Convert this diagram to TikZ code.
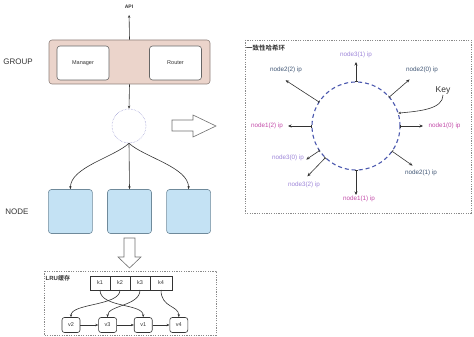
\documentclass[tikz,border=0pt]{standalone}
\usepackage{fontspec}
\setmainfont{Liberation Sans}
\newfontfamily\cjk{Noto Sans CJK SC}[BoldFont={Noto Sans CJK SC Bold}]
\usepackage{tikz}
\usetikzlibrary{arrows.meta,positioning,calc}
\definecolor{ink}{HTML}{333333}
\definecolor{groupfill}{HTML}{EBD4CB}
\definecolor{groupline}{HTML}{8E7F7A}
\definecolor{nodefill}{HTML}{C4E2F4}
\definecolor{nodeline}{HTML}{6F8A9B}
\definecolor{ringblue}{HTML}{4B58AE}
\definecolor{hubline}{HTML}{9090CC}
\definecolor{ipmag}{HTML}{C24AA8}
\definecolor{ipslate}{HTML}{3F5574}
\definecolor{iplav}{HTML}{9C84D8}
\definecolor{framegray}{HTML}{8A8A8A}

\begin{document}
\begin{tikzpicture}[x=1pt,y=-1pt,node distance=14.5pt]
    \tikzset{
      tag/.style={font=\fontsize{8}{9}\selectfont,text=ink},
      group/.style={rounded corners=3pt,draw=groupline,fill=groupfill,line width=0.6pt,minimum width=161pt,minimum height=44pt},
      item/.style={rounded corners=3pt,draw=ink!75,fill=white,line width=0.6pt,minimum width=52pt,minimum height=34pt,font=\fontsize{5.5}{6}\selectfont,text=ink},
      shard/.style={rounded corners=3pt,draw=nodeline,fill=nodefill,line width=0.6pt,minimum width=44pt,minimum height=44pt},
      hub/.style={circle,draw=hubline,densely dotted,line width=0.5pt,minimum size=34pt,inner sep=0pt},
      hollow/.style={draw=ink!70,fill=white,line width=0.6pt,line join=miter},
      frame/.style={draw=framegray,dash pattern=on 1.2pt off 1.2pt,line width=0.6pt},
      cell/.style={draw=ink,line width=0.6pt,minimum width=20pt,minimum height=14pt,inner sep=0pt,outer sep=0pt,font=\fontsize{5.5}{6}\selectfont,text=ink},
      slot/.style={rounded corners=2.5pt,draw=ink,line width=0.6pt,minimum width=18pt,minimum height=15pt,inner sep=0pt,font=\fontsize{5.5}{6}\selectfont,text=ink},
      ring/.style={circle,draw=ringblue,line width=1.1pt,dash pattern=on 4pt off 3pt,minimum size=88pt,inner sep=0pt,outer sep=0pt},
      ip/.style={font=\fontsize{6.3}{7}\selectfont,inner sep=0pt},
      arrow/.style={-{Stealth[length=3pt,width=2.4pt]},draw=ink,line width=0.6pt},
      ray/.style={{Bar[width=3pt]}-{Stealth[length=3.5pt,width=3pt]},draw=ink,line width=0.6pt}
    }
    \useasboundingbox (0,0) rectangle (474,337);
    % group layer
    \node[group] (group) at (129.5,62) {};
    \node[item] (manager) at (83,63) {Manager};
    \node[item] (router) at (175.5,63) {Router};
    \node[font=\bfseries\fontsize{5}{6}\selectfont,inner sep=1pt,text=ink] (api) at (129,7) {API};
    \node[tag] (grouptag) at (18,62) {GROUP};
    \draw[arrow,shorten >=5pt] (group.north) -- (api.south);
    \node[hub] (hub) at (129,126) {};
    \draw[arrow] (group.south) -- (hub.north);
    % node layer
    \node[shard] (shardb) at (129.5,211.5) {};
    \node[shard,left=of shardb] (sharda) {};
    \node[shard,right=of shardb] (shardc) {};
    \node[tag] (nodetag) at (17,212) {NODE};
    \draw[arrow] (hub.south) .. controls +(-15,14) and +(0,-22) .. (sharda.north);
    \draw[arrow] (hub.south) -- (shardb.north);
    \draw[arrow] (hub.south) .. controls +(15,14) and +(0,-22) .. (shardc.north);
    \draw[hollow] (172,120) -- (193,120) -- (193,115) -- (216,126) -- (193,137) -- (193,131) -- (172,131) -- cycle;
    \draw[hollow] (124,238) -- (135,238) -- (135,257) -- (141,257) -- (129.5,268) -- (118,257) -- (124,257) -- cycle;
    % lru cache
    \draw[frame] (44,271) rectangle (216,335);
    \node[anchor=west,inner sep=0pt,font=\bfseries\fontsize{6}{7}\selectfont,text=ink] (lrutag) at (45.5,278) {LRU{\cjk 缓存}};
    \node[cell] (k1) at (100,283) {k1};
    \node[cell,right=0pt of k1] (k2) {k2};
    \node[cell,right=0pt of k2] (k3) {k3};
    \node[cell,right=0pt of k3,minimum width=22pt] (k4) {k4};
    \node[slot] (v2) at (71,325) {v2};
    \node[slot,right=18pt of v2] (v3) {v3};
    \node[slot,right=17pt of v3] (v1) {v1};
    \node[slot,right=17pt of v1] (v4) {v4};
    \draw[arrow] (k1.south) .. controls +(0,18) and +(0,-14) .. (v1.north);
    \draw[arrow] (k2.south) .. controls +(0,16) and +(0,-14) .. (v2.north);
    \draw[arrow] (k3.south) .. controls +(0,16) and +(0,-12) .. (v3.north);
    \draw[arrow] (k4.south) .. controls +(0,18) and +(0,-12) .. (v4.north);
    \draw[arrow] (v2) -- (v3);
    \draw[arrow] (v3) -- (v1);
    \draw[arrow] (v1) -- (v4);
    % hash ring
    \draw[frame] (245,40) rectangle (471,213);
    \node[anchor=west,inner sep=0pt,font=\cjk\bfseries\fontsize{6.5}{7}\selectfont,text=ink] (ringtag) at (246,48) {一致性哈希环};
    \node[ring] (ring) at (356,126) {};
    \foreach \ang/\len/\id/\txt/\col/\px/\py in {
      90/20/a/node3(1) ip/iplav/356/55,
      41/27/b/node2(0) ip/ipslate/422/70,
      0/23/c/node1(0) ip/ipmag/444.5/126,
      -35/25/d/node2(1) ip/ipslate/421/173,
      -90/25/e/node1(1) ip/ipmag/359/199,
      -134/26/f/node3(2) ip/iplav/304/185,
      -146/16/g/node3(0) ip/iplav/288/158,
      180/24/h/node1(2) ip/ipmag/267/126,
      147/40/i/node2(2) ip/ipslate/286/70} {
      \coordinate (s\id) at (ring.\ang);
      \coordinate (e\id) at ($(s\id)!-\len pt!(ring.center)$);
      \node[ip,text=\col] (l\id) at (\px,\py) {\txt};
      \draw[ray] (s\id) -- (e\id);
    }
    \node[font=\fontsize{8.5}{9}\selectfont,inner sep=1pt,text=ink] (key) at (443,90) {Key};
    \draw[arrow] (key.south) .. controls +(0,14) and +(22,-2) .. (ring.17);
  \end{tikzpicture}
\end{document}
